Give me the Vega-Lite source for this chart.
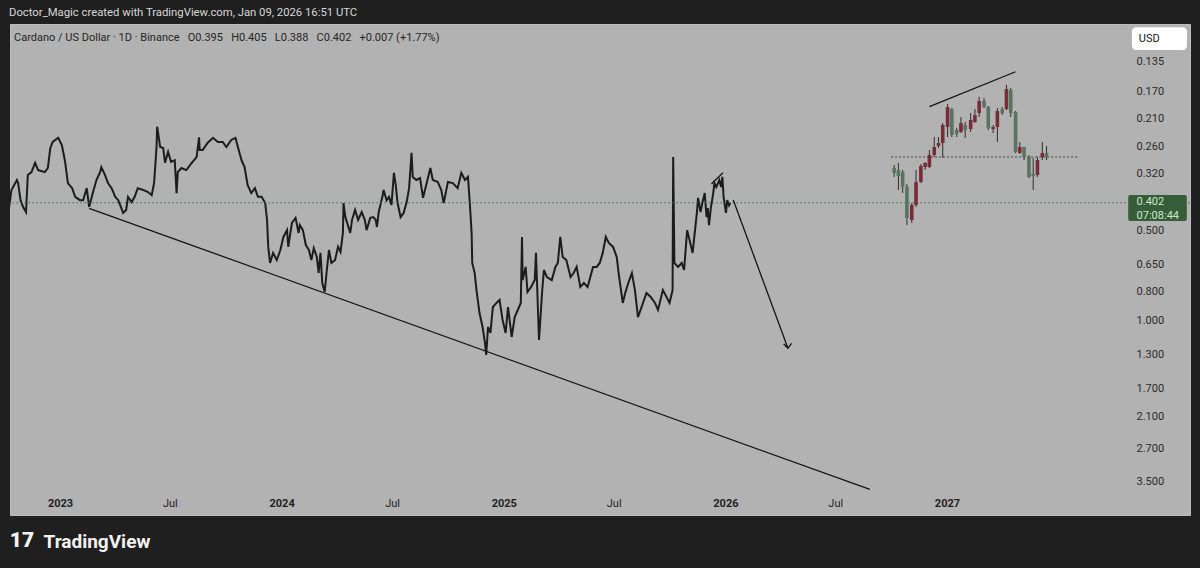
{
"$schema": "https://vega.github.io/schema/vega-lite/v6.json",
"width": 1180, "height": 491,
"autosize": {"type": "none"},
"padding": {"left": 10, "top": 24, "right": 10, "bottom": 53},
"background": "#1f1f1f",
"config": {"view": {"fill": "#b2b2b2", "stroke": "#bcbcbc"}, "font": "Roboto"},
"title": {"text": "Doctor_Magic created with TradingView.com, Jan 09, 2026 16:51 UTC", "anchor": "start", "frame": "group", "offset": 6, "fontSize": 11.3, "font": "Roboto", "fontWeight": "normal", "color": "#d8d8d8", "dx": -1},
"datasets": {
"price": [
{"date":"2022-10-09","price":0.419},{"date":"2022-10-13","price":0.364},{"date":"2022-10-22","price":0.337},{"date":"2022-10-24","price":0.345},{"date":"2022-10-28","price":0.394},{"date":"2022-11-01","price":0.415},{"date":"2022-11-06","price":0.432},{"date":"2022-11-09","price":0.324},{"date":"2022-11-15","price":0.317},{"date":"2022-11-21","price":0.295},{"date":"2022-11-26","price":0.312},{"date":"2022-12-07","price":0.317},{"date":"2022-12-12","price":0.307},{"date":"2022-12-16","price":0.263},{"date":"2022-12-20","price":0.251},{"date":"2022-12-29","price":0.243},
{"date":"2023-01-04","price":0.257},{"date":"2023-01-09","price":0.289},{"date":"2023-01-14","price":0.345},{"date":"2023-01-21","price":0.359},{"date":"2023-01-26","price":0.384},{"date":"2023-02-03","price":0.394},{"date":"2023-02-08","price":0.394},{"date":"2023-02-14","price":0.359},{"date":"2023-02-18","price":0.415},{"date":"2023-02-24","price":0.373},{"date":"2023-03-02","price":0.337},{"date":"2023-03-08","price":0.317},{"date":"2023-03-10","price":0.305},{"date":"2023-03-16","price":0.324},{"date":"2023-03-21","price":0.345},{"date":"2023-03-27","price":0.359},{"date":"2023-04-02","price":0.384},{"date":"2023-04-07","price":0.394},{"date":"2023-04-15","price":0.435},{"date":"2023-04-20","price":0.425},{"date":"2023-04-23","price":0.384},{"date":"2023-04-29","price":0.400},{"date":"2023-05-04","price":0.384},{"date":"2023-05-09","price":0.359},{"date":"2023-05-18","price":0.364},{"date":"2023-05-26","price":0.370},{"date":"2023-06-01","price":0.379},{"date":"2023-06-05","price":0.345},{"date":"2023-06-09","price":0.261},{"date":"2023-06-10","price":0.223},{"date":"2023-06-15","price":0.261},{"date":"2023-06-20","price":0.263},{"date":"2023-06-23","price":0.295},{"date":"2023-06-28","price":0.271},{"date":"2023-07-03","price":0.293},{"date":"2023-07-09","price":0.289},{"date":"2023-07-12","price":0.373},{"date":"2023-07-14","price":0.317},{"date":"2023-07-20","price":0.307},{"date":"2023-07-28","price":0.312},{"date":"2023-08-06","price":0.295},{"date":"2023-08-14","price":0.282},{"date":"2023-08-18","price":0.242},{"date":"2023-08-19","price":0.267},{"date":"2023-08-24","price":0.267},{"date":"2023-09-01","price":0.253},{"date":"2023-09-10","price":0.243},{"date":"2023-09-18","price":0.251},{"date":"2023-09-26","price":0.251},{"date":"2023-10-02","price":0.261},{"date":"2023-10-10","price":0.247},{"date":"2023-10-17","price":0.243},{"date":"2023-10-21","price":0.261},{"date":"2023-10-27","price":0.289},{"date":"2023-11-01","price":0.305},{"date":"2023-11-06","price":0.350},{"date":"2023-11-12","price":0.373},{"date":"2023-11-18","price":0.359},{"date":"2023-11-23","price":0.384},{"date":"2023-11-29","price":0.384},{"date":"2023-12-05","price":0.403},{"date":"2023-12-08","price":0.459},{"date":"2023-12-10","price":0.566},{"date":"2023-12-13","price":0.641},{"date":"2023-12-18","price":0.593},{"date":"2023-12-24","price":0.627},{"date":"2023-12-30","price":0.580},
{"date":"2024-01-04","price":0.524},{"date":"2024-01-10","price":0.497},{"date":"2024-01-12","price":0.566},{"date":"2024-01-18","price":0.470},{"date":"2024-01-24","price":0.452},{"date":"2024-01-29","price":0.508},{"date":"2024-01-31","price":0.478},{"date":"2024-02-05","price":0.497},{"date":"2024-02-10","price":0.558},{"date":"2024-02-15","price":0.580},{"date":"2024-02-19","price":0.627},{"date":"2024-02-23","price":0.571},{"date":"2024-02-28","price":0.612},{"date":"2024-03-02","price":0.693},{"date":"2024-03-05","price":0.593},{"date":"2024-03-08","price":0.749},{"date":"2024-03-12","price":0.803},{"date":"2024-03-15","price":0.693},{"date":"2024-03-19","price":0.580},{"date":"2024-03-23","price":0.641},{"date":"2024-03-29","price":0.627},{"date":"2024-04-03","price":0.566},{"date":"2024-04-07","price":0.589},{"date":"2024-04-11","price":0.508},{"date":"2024-04-12","price":0.403},{"date":"2024-04-15","price":0.449},{"date":"2024-04-18","price":0.470},{"date":"2024-04-23","price":0.508},{"date":"2024-04-26","price":0.459},{"date":"2024-05-01","price":0.425},{"date":"2024-05-06","price":0.459},{"date":"2024-05-12","price":0.432},{"date":"2024-05-17","price":0.459},{"date":"2024-05-20","price":0.497},{"date":"2024-05-26","price":0.452},{"date":"2024-05-31","price":0.449},{"date":"2024-06-04","price":0.459},{"date":"2024-06-06","price":0.485},{"date":"2024-06-09","price":0.432},{"date":"2024-06-15","price":0.384},{"date":"2024-06-17","price":0.364},{"date":"2024-06-22","price":0.394},{"date":"2024-06-26","price":0.384},{"date":"2024-06-30","price":0.409},{"date":"2024-07-04","price":0.319},{"date":"2024-07-07","price":0.350},{"date":"2024-07-10","price":0.403},{"date":"2024-07-15","price":0.449},{"date":"2024-07-20","price":0.435},{"date":"2024-07-25","price":0.400},{"date":"2024-07-29","price":0.359},{"date":"2024-08-02","price":0.273},{"date":"2024-08-04","price":0.329},{"date":"2024-08-10","price":0.337},{"date":"2024-08-16","price":0.332},{"date":"2024-08-21","price":0.387},{"date":"2024-08-27","price":0.345},{"date":"2024-09-02","price":0.307},{"date":"2024-09-06","price":0.337},{"date":"2024-09-14","price":0.342},{"date":"2024-09-20","price":0.364},{"date":"2024-09-24","price":0.403},{"date":"2024-10-01","price":0.342},{"date":"2024-10-09","price":0.345},{"date":"2024-10-17","price":0.359},{"date":"2024-10-23","price":0.319},{"date":"2024-10-29","price":0.337},{"date":"2024-11-03","price":0.329},{"date":"2024-11-06","price":0.403},{"date":"2024-11-09","price":0.508},{"date":"2024-11-10","price":0.641},{"date":"2024-11-14","price":0.693},{"date":"2024-11-17","price":0.791},{"date":"2024-11-22","price":0.945},{"date":"2024-11-27","price":1.053},{"date":"2024-12-01","price":1.192},{"date":"2024-12-03","price":1.308},{"date":"2024-12-06","price":1.053},{"date":"2024-12-10","price":1.103},{"date":"2024-12-14","price":0.902},{"date":"2024-12-20","price":0.874},{"date":"2024-12-25","price":0.854},{"date":"2024-12-30","price":0.997},
{"date":"2025-01-04","price":1.103},{"date":"2025-01-08","price":0.902},{"date":"2025-01-14","price":1.138},{"date":"2025-01-19","price":0.975},{"date":"2025-01-24","price":0.923},{"date":"2025-01-29","price":0.874},{"date":"2025-01-31","price":0.524},{"date":"2025-02-01","price":0.732},{"date":"2025-02-06","price":0.661},{"date":"2025-02-09","price":0.803},{"date":"2025-02-15","price":0.772},{"date":"2025-02-21","price":0.732},{"date":"2025-02-23","price":0.593},{"date":"2025-02-28","price":1.165},{"date":"2025-03-05","price":0.809},{"date":"2025-03-08","price":0.677},{"date":"2025-03-13","price":0.715},{"date":"2025-03-21","price":0.732},{"date":"2025-03-27","price":0.661},{"date":"2025-03-31","price":0.641},{"date":"2025-04-04","price":0.524},{"date":"2025-04-08","price":0.612},{"date":"2025-04-14","price":0.627},{"date":"2025-04-21","price":0.715},{"date":"2025-04-26","price":0.693},{"date":"2025-05-01","price":0.661},{"date":"2025-05-07","price":0.772},{"date":"2025-05-13","price":0.749},{"date":"2025-05-19","price":0.772},{"date":"2025-05-28","price":0.661},{"date":"2025-06-03","price":0.661},{"date":"2025-06-08","price":0.641},{"date":"2025-06-13","price":0.593},{"date":"2025-06-18","price":0.524},{"date":"2025-06-23","price":0.549},{"date":"2025-06-30","price":0.566},{"date":"2025-07-06","price":0.612},{"date":"2025-07-10","price":0.715},{"date":"2025-07-16","price":0.874},{"date":"2025-07-20","price":0.809},{"date":"2025-07-25","price":0.749},{"date":"2025-07-31","price":0.693},{"date":"2025-08-05","price":0.791},{"date":"2025-08-10","price":0.975},{"date":"2025-08-16","price":0.902},{"date":"2025-08-24","price":0.809},{"date":"2025-08-31","price":0.834},{"date":"2025-09-07","price":0.874},{"date":"2025-09-12","price":0.923},{"date":"2025-09-20","price":0.791},{"date":"2025-09-26","price":0.834},{"date":"2025-10-01","price":0.874},{"date":"2025-10-06","price":0.791},{"date":"2025-10-07","price":0.282},{"date":"2025-10-09","price":0.641},{"date":"2025-10-15","price":0.661},{"date":"2025-10-21","price":0.641},{"date":"2025-10-25","price":0.677},{"date":"2025-10-30","price":0.497},{"date":"2025-11-03","price":0.537},{"date":"2025-11-08","price":0.593},{"date":"2025-11-12","price":0.497},{"date":"2025-11-15","price":0.435},{"date":"2025-11-17","price":0.387},{"date":"2025-11-21","price":0.432},{"date":"2025-11-24","price":0.403},{"date":"2025-11-28","price":0.373},{"date":"2025-12-01","price":0.449},{"date":"2025-12-03","price":0.419},{"date":"2025-12-05","price":0.478},{"date":"2025-12-08","price":0.419},{"date":"2025-12-12","price":0.373},{"date":"2025-12-14","price":0.345},{"date":"2025-12-17","price":0.356},{"date":"2025-12-22","price":0.337},{"date":"2025-12-25","price":0.356},{"date":"2025-12-27","price":0.329},{"date":"2025-12-29","price":0.384},{"date":"2026-01-02","price":0.435},{"date":"2026-01-04","price":0.394},{"date":"2026-01-07","price":0.410},{"date":"2026-01-09","price":0.402}
],
"candles": [
{"date":"2026-10-06","o":0.3071,"c":0.3192,"lo":0.3000,"hi":0.3292},
{"date":"2026-10-13","o":0.3119,"c":0.3267,"lo":0.2954,"hi":0.3641},
{"date":"2026-10-20","o":0.3167,"c":0.3557,"lo":0.3119,"hi":0.3727},
{"date":"2026-10-27","o":0.3557,"c":0.4524,"lo":0.3475,"hi":0.4776},
{"date":"2026-11-04","o":0.4594,"c":0.4090,"lo":0.4027,"hi":0.4702},
{"date":"2026-11-11","o":0.4090,"c":0.3422,"lo":0.3119,"hi":0.4154},
{"date":"2026-11-19","o":0.3422,"c":0.3023,"lo":0.2977,"hi":0.3449},
{"date":"2026-11-26","o":0.3047,"c":0.2954,"lo":0.2931,"hi":0.3119},
{"date":"2026-12-03","o":0.3047,"c":0.2776,"lo":0.2671,"hi":0.3071},
{"date":"2026-12-11","o":0.2776,"c":0.2609,"lo":0.2415,"hi":0.2819},
{"date":"2026-12-18","o":0.2589,"c":0.2530,"lo":0.2415,"hi":0.2630},
{"date":"2026-12-25","o":0.2530,"c":0.2200,"lo":0.2166,"hi":0.2841},
{"date":"2027-01-02","o":0.2234,"c":0.1914,"lo":0.1870,"hi":0.2415},
{"date":"2027-01-09","o":0.1944,"c":0.2378,"lo":0.1929,"hi":0.2415},
{"date":"2027-01-17","o":0.2287,"c":0.2359,"lo":0.2251,"hi":0.2415},
{"date":"2027-01-24","o":0.2323,"c":0.2166,"lo":0.2068,"hi":0.2341},
{"date":"2027-01-31","o":0.2200,"c":0.2287,"lo":0.2149,"hi":0.2434},
{"date":"2027-02-09","o":0.2269,"c":0.2116,"lo":0.2005,"hi":0.2323},
{"date":"2027-02-16","o":0.2149,"c":0.2036,"lo":0.1944,"hi":0.2166},
{"date":"2027-02-23","o":0.2005,"c":0.1826,"lo":0.1770,"hi":0.2068},
{"date":"2027-03-03","o":0.1826,"c":0.1914,"lo":0.1784,"hi":0.1929},
{"date":"2027-03-10","o":0.1914,"c":0.2251,"lo":0.1899,"hi":0.2287},
{"date":"2027-03-18","o":0.2269,"c":0.2234,"lo":0.2200,"hi":0.2341},
{"date":"2027-03-25","o":0.2234,"c":0.1974,"lo":0.1929,"hi":0.2510},
{"date":"2027-04-02","o":0.1944,"c":0.2005,"lo":0.1914,"hi":0.2036},
{"date":"2027-04-09","o":0.1944,"c":0.1664,"lo":0.1613,"hi":0.1959},
{"date":"2027-04-16","o":0.1677,"c":0.2005,"lo":0.1651,"hi":0.2068},
{"date":"2027-04-24","o":0.1989,"c":0.2712,"lo":0.1974,"hi":0.2733},
{"date":"2027-05-01","o":0.2733,"c":0.2609,"lo":0.2510,"hi":0.2754},
{"date":"2027-05-08","o":0.2609,"c":0.2819,"lo":0.2609,"hi":0.2886},
{"date":"2027-05-16","o":0.2819,"c":0.3292,"lo":0.2776,"hi":0.3318},
{"date":"2027-05-23","o":0.3216,"c":0.3267,"lo":0.2841,"hi":0.3641},
{"date":"2027-05-30","o":0.3241,"c":0.2886,"lo":0.2819,"hi":0.3292},
{"date":"2027-06-07","o":0.2819,"c":0.2733,"lo":0.2510,"hi":0.2886},
{"date":"2027-06-14","o":0.2733,"c":0.2819,"lo":0.2589,"hi":0.2886}
],
"lines": [
{"id":"support","date":"2023-02-18","price":0.4196},{"id":"support","date":"2026-08-27","price":3.711},
{"id":"top","date":"2026-12-03","price":0.1909},{"id":"top","date":"2027-04-24","price":0.1456},
{"id":"small","date":"2025-12-09","price":0.3475},{"id":"small","date":"2025-12-28","price":0.3184},
{"id":"arrow","date":"2026-01-14","price":0.3935},{"id":"arrow","date":"2026-04-14","price":1.242},
{"id":"head","date":"2026-04-07","price":1.2014},{"id":"head","date":"2026-04-14","price":1.242},{"id":"head","date":"2026-04-20","price":1.195}
],
"dots": [
{"date":"2026-10-01","price":0.2819},{"date":"2027-08-05","price":0.2819}
]
},
"layer": [
{"data":{"name":"price"},
 "mark":{"type":"line","color":"#1c1c1c","strokeWidth":2,"clip":true},
 "encoding":{
  "x":{"field":"date","type":"temporal","title":"TradingView",
   "scale":{"type":"utc","domain":[{"year":2022,"month":10,"date":10,"hours":15,"utc":true},{"year":2028,"month":2,"date":5,"hours":7,"utc":true}],"nice":false},
   "axis":{"orient":"bottom","offset":-20,"zindex":1,"domain":false,"ticks":false,"grid":false,"labelPadding":2,"labelFontSize":11,"labelFont":"Roboto","labelColor":"#1f1f1f","labelOverlap":false,"labelFlush":false,
    "values":[{"year":2023,"month":1,"date":1,"utc":true},{"year":2023,"month":7,"date":1,"utc":true},{"year":2024,"month":1,"date":1,"utc":true},{"year":2024,"month":7,"date":1,"utc":true},{"year":2025,"month":1,"date":1,"utc":true},{"year":2025,"month":7,"date":1,"utc":true},{"year":2026,"month":1,"date":1,"utc":true},{"year":2026,"month":7,"date":1,"utc":true},{"year":2027,"month":1,"date":1,"utc":true}],
    "labelExpr":"utcmonth(datum.value) == 0 ? utcFormat(datum.value, '%Y') : utcFormat(datum.value, '%b')",
    "labelFontWeight":{"condition":{"test":"utcmonth(datum.value) == 0","value":"bold"},"value":"normal"},
    "titleColor":"#f2f2f2","titleFont":"Roboto","titleFontSize":19,"titleFontWeight":"bold","titleX":33,"titleY":46,"titleAlign":"left","titleBaseline":"middle","titleAnchor":"start"}},
  "y":{"field":"price","type":"quantitative","title":"",
   "scale":{"type":"log","domain":[0.10056,4.5227],"reverse":true,"nice":false,"zero":false},
   "axis":{"orient":"right","offset":-56,"zindex":1,"domain":false,"ticks":false,"grid":false,"labelPadding":2,"labelAlign":"left","labelFontSize":11,"labelFont":"Roboto","labelColor":"#2a2a2a","labelOverlap":false,"format":".3f",
    "values":[0.135,0.17,0.21,0.26,0.32,0.5,0.65,0.8,1,1.3,1.7,2.1,2.7,3.5]}}}},
{"data":{"values":[{"price":0.402}]},
 "mark":{"type":"rule","color":"#3f6a47","strokeWidth":1,"strokeDash":[1.5,2.5]},
 "encoding":{"y":{"field":"price","type":"quantitative","title":"","scale":{"type":"log","domain":[0.10056,4.5227],"reverse":true,"nice":false,"zero":false}}}},
{"data":{"name":"dots"},
 "mark":{"type":"line","color":"#4a4a4a","strokeWidth":1,"strokeDash":[2,2]},
 "encoding":{
  "x":{"field":"date","type":"temporal","title":"TradingView","scale":{"type":"utc","domain":[{"year":2022,"month":10,"date":10,"hours":15,"utc":true},{"year":2028,"month":2,"date":5,"hours":7,"utc":true}],"nice":false}},
  "y":{"field":"price","type":"quantitative","title":"","scale":{"type":"log","domain":[0.10056,4.5227],"reverse":true,"nice":false,"zero":false}}}},
{"data":{"name":"lines"},
 "mark":{"type":"line","color":"#141414","strokeWidth":1.3,"clip":true},
 "encoding":{
  "x":{"field":"date","type":"temporal","title":"TradingView","scale":{"type":"utc","domain":[{"year":2022,"month":10,"date":10,"hours":15,"utc":true},{"year":2028,"month":2,"date":5,"hours":7,"utc":true}],"nice":false}},
  "y":{"field":"price","type":"quantitative","title":"","scale":{"type":"log","domain":[0.10056,4.5227],"reverse":true,"nice":false,"zero":false}},
  "detail":{"field":"id"}}},
{"data":{"name":"candles"},
 "mark":{"type":"rule","color":"#2e2e2e","strokeWidth":1},
 "encoding":{
  "x":{"field":"date","type":"temporal","title":"TradingView","scale":{"type":"utc","domain":[{"year":2022,"month":10,"date":10,"hours":15,"utc":true},{"year":2028,"month":2,"date":5,"hours":7,"utc":true}],"nice":false}},
  "y":{"field":"lo","type":"quantitative","title":"","scale":{"type":"log","domain":[0.10056,4.5227],"reverse":true,"nice":false,"zero":false}},
  "y2":{"field":"hi"}}},
{"data":{"name":"candles"},
 "mark":{"type":"rule","strokeWidth":3.6,"strokeCap":"butt"},
 "encoding":{
  "x":{"field":"date","type":"temporal","title":"TradingView","scale":{"type":"utc","domain":[{"year":2022,"month":10,"date":10,"hours":15,"utc":true},{"year":2028,"month":2,"date":5,"hours":7,"utc":true}],"nice":false}},
  "y":{"field":"o","type":"quantitative","title":"","scale":{"type":"log","domain":[0.10056,4.5227],"reverse":true,"nice":false,"zero":false}},
  "y2":{"field":"c"},
  "color":{"condition":{"test":"datum.c < datum.o","value":"#7a2b3a"},"value":"#5a7361"}}},
{"data":{"values":[{}]},
 "mark":{"type":"rect","color":"#355e38","cornerRadius":2},
 "encoding":{
  "x":{"datum":{"year":2027,"month":10,"date":26,"hours":12,"utc":true},"type":"temporal","title":"TradingView","scale":{"type":"utc","domain":[{"year":2022,"month":10,"date":10,"hours":15,"utc":true},{"year":2028,"month":2,"date":5,"hours":7,"utc":true}],"nice":false}},
  "x2":{"datum":{"year":2028,"month":1,"date":31,"hours":0,"utc":true}},
  "y":{"datum":0.3785,"type":"quantitative","title":"","scale":{"type":"log","domain":[0.10056,4.5227],"reverse":true,"nice":false,"zero":false}},
  "y2":{"datum":0.4630}}},
{"data":{"values":[{}]},
 "mark":{"type":"text","text":["0.402","07:08:44"],"lineHeight":14,"align":"left","baseline":"middle","fontSize":11,"font":"Roboto","color":"#cfe5cf"},
 "encoding":{
  "x":{"datum":{"year":2027,"month":11,"date":9,"hours":7,"utc":true},"type":"temporal","title":"TradingView","scale":{"type":"utc","domain":[{"year":2022,"month":10,"date":10,"hours":15,"utc":true},{"year":2028,"month":2,"date":5,"hours":7,"utc":true}],"nice":false}},
  "y":{"datum":0.3987,"type":"quantitative","title":"","scale":{"type":"log","domain":[0.10056,4.5227],"reverse":true,"nice":false,"zero":false}}}},
{"data":{"values":[{}]},
 "mark":{"type":"rect","color":"#ffffff","cornerRadius":4},
 "encoding":{
  "x":{"datum":{"year":2027,"month":11,"date":1,"hours":14,"utc":true},"type":"temporal","title":"TradingView","scale":{"type":"utc","domain":[{"year":2022,"month":10,"date":10,"hours":15,"utc":true},{"year":2028,"month":2,"date":5,"hours":7,"utc":true}],"nice":false}},
  "x2":{"datum":{"year":2028,"month":1,"date":31,"hours":5,"utc":true}},
  "y":{"datum":0.1032,"type":"quantitative","title":"","scale":{"type":"log","domain":[0.10056,4.5227],"reverse":true,"nice":false,"zero":false}},
  "y2":{"datum":0.1230}}},
{"data":{"values":[{}]},
 "mark":{"type":"text","text":"USD","align":"left","baseline":"middle","fontSize":11,"font":"Roboto","color":"#131722"},
 "encoding":{
  "x":{"datum":{"year":2027,"month":11,"date":13,"utc":true},"type":"temporal","title":"TradingView","scale":{"type":"utc","domain":[{"year":2022,"month":10,"date":10,"hours":15,"utc":true},{"year":2028,"month":2,"date":5,"hours":7,"utc":true}],"nice":false}},
  "y":{"datum":0.1126,"type":"quantitative","title":"","scale":{"type":"log","domain":[0.10056,4.5227],"reverse":true,"nice":false,"zero":false}}}},
{"data":{"values":[{}]},
 "mark":{"type":"text","text":"Cardano / US Dollar · 1D · Binance\u00a0\u00a0\u00a0O0.395\u00a0\u00a0\u00a0H0.405\u00a0\u00a0\u00a0L0.388\u00a0\u00a0\u00a0C0.402\u00a0\u00a0\u00a0+0.007 (+1.77%)","align":"left","baseline":"middle","fontSize":11,"font":"Roboto","color":"#262626"},
 "encoding":{
  "x":{"datum":{"year":2022,"month":10,"date":17,"hours":6,"utc":true},"type":"temporal","title":"TradingView","scale":{"type":"utc","domain":[{"year":2022,"month":10,"date":10,"hours":15,"utc":true},{"year":2028,"month":2,"date":5,"hours":7,"utc":true}],"nice":false}},
  "y":{"datum":0.1121,"type":"quantitative","title":"","scale":{"type":"log","domain":[0.10056,4.5227],"reverse":true,"nice":false,"zero":false}}}},
{"data":{"values":[{}]},
 "mark":{"type":"text","text":"17","align":"center","baseline":"middle","fontSize":21,"font":"Roboto","fontWeight":900,"color":"#f2f2f2"},
 "encoding":{
  "x":{"datum":{"year":2022,"month":10,"date":30,"hours":10,"utc":true},"type":"temporal","title":"TradingView","scale":{"type":"utc","domain":[{"year":2022,"month":10,"date":10,"hours":15,"utc":true},{"year":2028,"month":2,"date":5,"hours":7,"utc":true}],"nice":false}},
  "y":{"datum":5.533,"type":"quantitative","title":"","scale":{"type":"log","domain":[0.10056,4.5227],"reverse":true,"nice":false,"zero":false}}}}
]
}
